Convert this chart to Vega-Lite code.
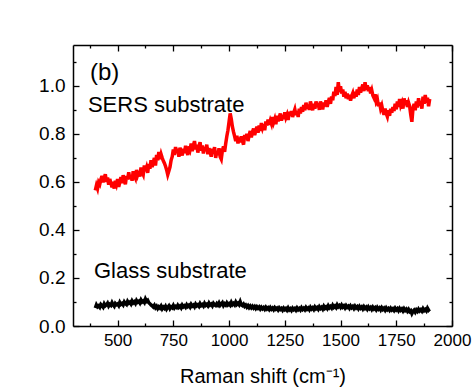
{
  "$schema": "https://vega.github.io/schema/vega-lite/v6.json",
  "width": 379,
  "height": 281,
  "autosize": {"type": "none"},
  "padding": {"left": 73, "top": 45, "right": 22, "bottom": 65},
  "background": "white",
  "config": {
    "view": {"stroke": null},
    "font": "Liberation Sans",
    "axis": {
      "grid": false,
      "domainColor": "black",
      "domainWidth": 1.5,
      "tickColor": "black",
      "tickWidth": 1.3,
      "labelColor": "black",
      "labelFont": "Liberation Sans",
      "titleFont": "Liberation Sans",
      "titleColor": "black",
      "titleFontWeight": "normal",
      "labelFlush": false,
      "labelOverlap": false
    }
  },
  "datasets": {
    "sers": [
      {"shift":400,"value":0.565},{"shift":405,"value":0.585},{"shift":410,"value":0.572},{"shift":415,"value":0.598},{"shift":420,"value":0.590},{"shift":425,"value":0.610},{"shift":430,"value":0.625},{"shift":435,"value":0.598},{"shift":440,"value":0.615},{"shift":445,"value":0.632},
      {"shift":450,"value":0.600},{"shift":455,"value":0.618},{"shift":460,"value":0.588},{"shift":465,"value":0.612},{"shift":470,"value":0.595},{"shift":475,"value":0.578},{"shift":480,"value":0.600},{"shift":485,"value":0.572},{"shift":490,"value":0.605},{"shift":495,"value":0.590},
      {"shift":500,"value":0.612},{"shift":505,"value":0.580},{"shift":510,"value":0.598},{"shift":515,"value":0.620},{"shift":520,"value":0.595},{"shift":525,"value":0.628},{"shift":530,"value":0.605},{"shift":535,"value":0.590},{"shift":540,"value":0.625},{"shift":545,"value":0.610},
      {"shift":550,"value":0.640},{"shift":555,"value":0.612},{"shift":560,"value":0.628},{"shift":565,"value":0.605},{"shift":570,"value":0.645},{"shift":575,"value":0.625},{"shift":580,"value":0.615},{"shift":585,"value":0.650},{"shift":590,"value":0.630},{"shift":595,"value":0.645},
      {"shift":600,"value":0.622},{"shift":605,"value":0.660},{"shift":610,"value":0.640},{"shift":615,"value":0.630},{"shift":620,"value":0.668},{"shift":625,"value":0.645},{"shift":630,"value":0.660},{"shift":635,"value":0.638},{"shift":640,"value":0.675},{"shift":645,"value":0.655},
      {"shift":650,"value":0.690},{"shift":655,"value":0.662},{"shift":660,"value":0.680},{"shift":665,"value":0.700},{"shift":670,"value":0.668},{"shift":675,"value":0.712},{"shift":680,"value":0.690},{"shift":685,"value":0.725},{"shift":690,"value":0.695},{"shift":695,"value":0.715},
      {"shift":700,"value":0.700},{"shift":705,"value":0.688},{"shift":710,"value":0.678},{"shift":715,"value":0.665},{"shift":720,"value":0.650},{"shift":725,"value":0.630},{"shift":730,"value":0.645},{"shift":735,"value":0.662},{"shift":740,"value":0.690},{"shift":745,"value":0.705},
      {"shift":750,"value":0.735},{"shift":755,"value":0.712},{"shift":760,"value":0.745},{"shift":765,"value":0.720},{"shift":770,"value":0.738},{"shift":775,"value":0.705},{"shift":780,"value":0.742},{"shift":785,"value":0.725},{"shift":790,"value":0.710},{"shift":795,"value":0.738},
      {"shift":800,"value":0.720},{"shift":805,"value":0.750},{"shift":810,"value":0.728},{"shift":815,"value":0.712},{"shift":820,"value":0.748},{"shift":825,"value":0.735},{"shift":830,"value":0.760},{"shift":835,"value":0.728},{"shift":840,"value":0.752},{"shift":845,"value":0.770},
      {"shift":850,"value":0.735},{"shift":855,"value":0.755},{"shift":860,"value":0.722},{"shift":865,"value":0.748},{"shift":870,"value":0.765},{"shift":875,"value":0.730},{"shift":880,"value":0.752},{"shift":885,"value":0.718},{"shift":890,"value":0.745},{"shift":895,"value":0.728},
      {"shift":900,"value":0.755},{"shift":905,"value":0.715},{"shift":910,"value":0.740},{"shift":915,"value":0.725},{"shift":920,"value":0.705},{"shift":925,"value":0.738},{"shift":930,"value":0.718},{"shift":935,"value":0.745},{"shift":940,"value":0.700},{"shift":945,"value":0.728},
      {"shift":950,"value":0.712},{"shift":955,"value":0.740},{"shift":960,"value":0.705},{"shift":965,"value":0.695},{"shift":970,"value":0.730},{"shift":975,"value":0.748},{"shift":980,"value":0.725},{"shift":985,"value":0.760},{"shift":990,"value":0.790},{"shift":995,"value":0.815},
      {"shift":1000,"value":0.850},{"shift":1005,"value":0.885},{"shift":1010,"value":0.862},{"shift":1015,"value":0.830},{"shift":1020,"value":0.808},{"shift":1025,"value":0.790},{"shift":1030,"value":0.770},{"shift":1035,"value":0.792},{"shift":1040,"value":0.760},{"shift":1045,"value":0.785},
      {"shift":1050,"value":0.765},{"shift":1055,"value":0.790},{"shift":1060,"value":0.772},{"shift":1065,"value":0.755},{"shift":1070,"value":0.795},{"shift":1075,"value":0.778},{"shift":1080,"value":0.800},{"shift":1085,"value":0.770},{"shift":1090,"value":0.795},{"shift":1095,"value":0.812},
      {"shift":1100,"value":0.785},{"shift":1105,"value":0.808},{"shift":1110,"value":0.822},{"shift":1115,"value":0.795},{"shift":1120,"value":0.815},{"shift":1125,"value":0.830},{"shift":1130,"value":0.805},{"shift":1135,"value":0.835},{"shift":1140,"value":0.812},{"shift":1145,"value":0.845},
      {"shift":1150,"value":0.825},{"shift":1155,"value":0.840},{"shift":1160,"value":0.815},{"shift":1165,"value":0.852},{"shift":1170,"value":0.835},{"shift":1175,"value":0.860},{"shift":1180,"value":0.838},{"shift":1185,"value":0.855},{"shift":1190,"value":0.842},{"shift":1195,"value":0.870},
      {"shift":1200,"value":0.848},{"shift":1205,"value":0.862},{"shift":1210,"value":0.840},{"shift":1215,"value":0.875},{"shift":1220,"value":0.852},{"shift":1225,"value":0.868},{"shift":1230,"value":0.885},{"shift":1235,"value":0.855},{"shift":1240,"value":0.878},{"shift":1245,"value":0.862},
      {"shift":1250,"value":0.890},{"shift":1255,"value":0.868},{"shift":1260,"value":0.880},{"shift":1265,"value":0.858},{"shift":1270,"value":0.892},{"shift":1275,"value":0.875},{"shift":1280,"value":0.895},{"shift":1285,"value":0.870},{"shift":1290,"value":0.888},{"shift":1295,"value":0.902},
      {"shift":1300,"value":0.878},{"shift":1305,"value":0.895},{"shift":1310,"value":0.870},{"shift":1315,"value":0.905},{"shift":1320,"value":0.885},{"shift":1325,"value":0.912},{"shift":1330,"value":0.892},{"shift":1335,"value":0.920},{"shift":1340,"value":0.898},{"shift":1345,"value":0.930},
      {"shift":1350,"value":0.905},{"shift":1355,"value":0.922},{"shift":1360,"value":0.900},{"shift":1365,"value":0.935},{"shift":1370,"value":0.915},{"shift":1375,"value":0.898},{"shift":1380,"value":0.925},{"shift":1385,"value":0.905},{"shift":1390,"value":0.935},{"shift":1395,"value":0.912},
      {"shift":1400,"value":0.928},{"shift":1405,"value":0.900},{"shift":1410,"value":0.935},{"shift":1415,"value":0.918},{"shift":1420,"value":0.902},{"shift":1425,"value":0.930},{"shift":1430,"value":0.915},{"shift":1435,"value":0.940},{"shift":1440,"value":0.912},{"shift":1445,"value":0.932},
      {"shift":1450,"value":0.950},{"shift":1455,"value":0.925},{"shift":1460,"value":0.955},{"shift":1465,"value":0.940},{"shift":1470,"value":0.975},{"shift":1475,"value":0.958},{"shift":1480,"value":0.995},{"shift":1485,"value":0.962},{"shift":1490,"value":1.015},{"shift":1495,"value":0.975},
      {"shift":1500,"value":0.998},{"shift":1505,"value":0.968},{"shift":1510,"value":0.985},{"shift":1515,"value":0.955},{"shift":1520,"value":0.975},{"shift":1525,"value":0.948},{"shift":1530,"value":0.968},{"shift":1535,"value":0.945},{"shift":1540,"value":0.962},{"shift":1545,"value":0.938},
      {"shift":1550,"value":0.958},{"shift":1555,"value":0.970},{"shift":1560,"value":0.948},{"shift":1565,"value":0.975},{"shift":1570,"value":0.955},{"shift":1575,"value":0.985},{"shift":1580,"value":0.962},{"shift":1585,"value":0.995},{"shift":1590,"value":0.972},{"shift":1595,"value":0.990},
      {"shift":1600,"value":1.005},{"shift":1605,"value":0.978},{"shift":1610,"value":1.015},{"shift":1615,"value":0.985},{"shift":1620,"value":1.002},{"shift":1625,"value":0.978},{"shift":1630,"value":0.995},{"shift":1635,"value":0.968},{"shift":1640,"value":0.982},{"shift":1645,"value":0.960},
      {"shift":1650,"value":0.950},{"shift":1655,"value":0.965},{"shift":1660,"value":0.935},{"shift":1665,"value":0.945},{"shift":1670,"value":0.915},{"shift":1675,"value":0.930},{"shift":1680,"value":0.905},{"shift":1685,"value":0.918},{"shift":1690,"value":0.895},{"shift":1695,"value":0.880},
      {"shift":1700,"value":0.905},{"shift":1705,"value":0.885},{"shift":1710,"value":0.872},{"shift":1715,"value":0.898},{"shift":1720,"value":0.875},{"shift":1725,"value":0.905},{"shift":1730,"value":0.888},{"shift":1735,"value":0.912},{"shift":1740,"value":0.895},{"shift":1745,"value":0.925},
      {"shift":1750,"value":0.902},{"shift":1755,"value":0.935},{"shift":1760,"value":0.912},{"shift":1765,"value":0.945},{"shift":1770,"value":0.918},{"shift":1775,"value":0.930},{"shift":1780,"value":0.905},{"shift":1785,"value":0.948},{"shift":1790,"value":0.920},{"shift":1795,"value":0.940},
      {"shift":1800,"value":0.912},{"shift":1805,"value":0.930},{"shift":1810,"value":0.915},{"shift":1815,"value":0.880},{"shift":1820,"value":0.850},{"shift":1825,"value":0.905},{"shift":1830,"value":0.925},{"shift":1835,"value":0.898},{"shift":1840,"value":0.935},{"shift":1845,"value":0.910},
      {"shift":1850,"value":0.948},{"shift":1855,"value":0.918},{"shift":1860,"value":0.935},{"shift":1865,"value":0.905},{"shift":1870,"value":0.955},{"shift":1875,"value":0.925},{"shift":1880,"value":0.962},{"shift":1885,"value":0.930},{"shift":1890,"value":0.950},{"shift":1895,"value":0.915},
      {"shift":1900,"value":0.945}
    ],
    "glass": [
      {"shift":400,"value":0.075},{"shift":405,"value":0.088},{"shift":410,"value":0.080},{"shift":415,"value":0.084},{"shift":420,"value":0.078},{"shift":425,"value":0.090},{"shift":430,"value":0.085},{"shift":435,"value":0.079},{"shift":440,"value":0.092},{"shift":445,"value":0.084},
      {"shift":450,"value":0.088},{"shift":455,"value":0.095},{"shift":460,"value":0.083},{"shift":465,"value":0.090},{"shift":470,"value":0.086},{"shift":475,"value":0.097},{"shift":480,"value":0.088},{"shift":485,"value":0.082},{"shift":490,"value":0.094},{"shift":495,"value":0.089},
      {"shift":500,"value":0.092},{"shift":505,"value":0.085},{"shift":510,"value":0.098},{"shift":515,"value":0.090},{"shift":520,"value":0.094},{"shift":525,"value":0.088},{"shift":530,"value":0.100},{"shift":535,"value":0.093},{"shift":540,"value":0.089},{"shift":545,"value":0.102},
      {"shift":550,"value":0.095},{"shift":555,"value":0.099},{"shift":560,"value":0.092},{"shift":565,"value":0.104},{"shift":570,"value":0.096},{"shift":575,"value":0.101},{"shift":580,"value":0.094},{"shift":585,"value":0.106},{"shift":590,"value":0.099},{"shift":595,"value":0.103},
      {"shift":600,"value":0.096},{"shift":605,"value":0.108},{"shift":610,"value":0.100},{"shift":615,"value":0.104},{"shift":620,"value":0.098},{"shift":625,"value":0.112},{"shift":630,"value":0.103},{"shift":635,"value":0.107},{"shift":640,"value":0.097},{"shift":645,"value":0.093},
      {"shift":650,"value":0.088},{"shift":655,"value":0.084},{"shift":660,"value":0.079},{"shift":665,"value":0.086},{"shift":670,"value":0.076},{"shift":675,"value":0.082},{"shift":680,"value":0.073},{"shift":685,"value":0.080},{"shift":690,"value":0.075},{"shift":695,"value":0.083},
      {"shift":700,"value":0.072},{"shift":705,"value":0.079},{"shift":710,"value":0.074},{"shift":715,"value":0.082},{"shift":720,"value":0.071},{"shift":725,"value":0.078},{"shift":730,"value":0.084},{"shift":735,"value":0.073},{"shift":740,"value":0.080},{"shift":745,"value":0.076},
      {"shift":750,"value":0.085},{"shift":755,"value":0.075},{"shift":760,"value":0.081},{"shift":765,"value":0.077},{"shift":770,"value":0.086},{"shift":775,"value":0.078},{"shift":780,"value":0.083},{"shift":785,"value":0.076},{"shift":790,"value":0.087},{"shift":795,"value":0.080},
      {"shift":800,"value":0.084},{"shift":805,"value":0.078},{"shift":810,"value":0.088},{"shift":815,"value":0.081},{"shift":820,"value":0.086},{"shift":825,"value":0.079},{"shift":830,"value":0.090},{"shift":835,"value":0.083},{"shift":840,"value":0.087},{"shift":845,"value":0.080},
      {"shift":850,"value":0.091},{"shift":855,"value":0.084},{"shift":860,"value":0.088},{"shift":865,"value":0.082},{"shift":870,"value":0.093},{"shift":875,"value":0.085},{"shift":880,"value":0.089},{"shift":885,"value":0.083},{"shift":890,"value":0.094},{"shift":895,"value":0.086},
      {"shift":900,"value":0.090},{"shift":905,"value":0.084},{"shift":910,"value":0.095},{"shift":915,"value":0.087},{"shift":920,"value":0.091},{"shift":925,"value":0.084},{"shift":930,"value":0.094},{"shift":935,"value":0.088},{"shift":940,"value":0.085},{"shift":945,"value":0.093},
      {"shift":950,"value":0.087},{"shift":955,"value":0.096},{"shift":960,"value":0.086},{"shift":965,"value":0.091},{"shift":970,"value":0.097},{"shift":975,"value":0.085},{"shift":980,"value":0.092},{"shift":985,"value":0.087},{"shift":990,"value":0.096},{"shift":995,"value":0.088},
      {"shift":1000,"value":0.093},{"shift":1005,"value":0.087},{"shift":1010,"value":0.098},{"shift":1015,"value":0.089},{"shift":1020,"value":0.094},{"shift":1025,"value":0.088},{"shift":1030,"value":0.099},{"shift":1035,"value":0.090},{"shift":1040,"value":0.095},{"shift":1045,"value":0.089},
      {"shift":1050,"value":0.101},{"shift":1055,"value":0.088},{"shift":1060,"value":0.085},{"shift":1065,"value":0.091},{"shift":1070,"value":0.082},{"shift":1075,"value":0.087},{"shift":1080,"value":0.079},{"shift":1085,"value":0.085},{"shift":1090,"value":0.077},{"shift":1095,"value":0.083},
      {"shift":1100,"value":0.076},{"shift":1105,"value":0.082},{"shift":1110,"value":0.075},{"shift":1115,"value":0.081},{"shift":1120,"value":0.073},{"shift":1125,"value":0.080},{"shift":1130,"value":0.074},{"shift":1135,"value":0.079},{"shift":1140,"value":0.071},{"shift":1145,"value":0.078},
      {"shift":1150,"value":0.072},{"shift":1155,"value":0.077},{"shift":1160,"value":0.070},{"shift":1165,"value":0.078},{"shift":1170,"value":0.071},{"shift":1175,"value":0.076},{"shift":1180,"value":0.069},{"shift":1185,"value":0.077},{"shift":1190,"value":0.070},{"shift":1195,"value":0.075},
      {"shift":1200,"value":0.068},{"shift":1205,"value":0.076},{"shift":1210,"value":0.070},{"shift":1215,"value":0.074},{"shift":1220,"value":0.067},{"shift":1225,"value":0.075},{"shift":1230,"value":0.069},{"shift":1235,"value":0.073},{"shift":1240,"value":0.066},{"shift":1245,"value":0.074},
      {"shift":1250,"value":0.068},{"shift":1255,"value":0.073},{"shift":1260,"value":0.066},{"shift":1265,"value":0.075},{"shift":1270,"value":0.067},{"shift":1275,"value":0.072},{"shift":1280,"value":0.065},{"shift":1285,"value":0.074},{"shift":1290,"value":0.068},{"shift":1295,"value":0.073},
      {"shift":1300,"value":0.066},{"shift":1305,"value":0.075},{"shift":1310,"value":0.068},{"shift":1315,"value":0.073},{"shift":1320,"value":0.067},{"shift":1325,"value":0.076},{"shift":1330,"value":0.069},{"shift":1335,"value":0.074},{"shift":1340,"value":0.068},{"shift":1345,"value":0.077},
      {"shift":1350,"value":0.070},{"shift":1355,"value":0.075},{"shift":1360,"value":0.068},{"shift":1365,"value":0.078},{"shift":1370,"value":0.071},{"shift":1375,"value":0.076},{"shift":1380,"value":0.069},{"shift":1385,"value":0.079},{"shift":1390,"value":0.072},{"shift":1395,"value":0.077},
      {"shift":1400,"value":0.070},{"shift":1405,"value":0.080},{"shift":1410,"value":0.073},{"shift":1415,"value":0.078},{"shift":1420,"value":0.071},{"shift":1425,"value":0.082},{"shift":1430,"value":0.074},{"shift":1435,"value":0.079},{"shift":1440,"value":0.073},{"shift":1445,"value":0.084},
      {"shift":1450,"value":0.076},{"shift":1455,"value":0.081},{"shift":1460,"value":0.075},{"shift":1465,"value":0.086},{"shift":1470,"value":0.078},{"shift":1475,"value":0.083},{"shift":1480,"value":0.077},{"shift":1485,"value":0.088},{"shift":1490,"value":0.080},{"shift":1495,"value":0.085},
      {"shift":1500,"value":0.078},{"shift":1505,"value":0.087},{"shift":1510,"value":0.079},{"shift":1515,"value":0.084},{"shift":1520,"value":0.076},{"shift":1525,"value":0.085},{"shift":1530,"value":0.078},{"shift":1535,"value":0.082},{"shift":1540,"value":0.074},{"shift":1545,"value":0.083},
      {"shift":1550,"value":0.076},{"shift":1555,"value":0.081},{"shift":1560,"value":0.073},{"shift":1565,"value":0.082},{"shift":1570,"value":0.075},{"shift":1575,"value":0.080},{"shift":1580,"value":0.072},{"shift":1585,"value":0.081},{"shift":1590,"value":0.074},{"shift":1595,"value":0.079},
      {"shift":1600,"value":0.071},{"shift":1605,"value":0.080},{"shift":1610,"value":0.073},{"shift":1615,"value":0.078},{"shift":1620,"value":0.070},{"shift":1625,"value":0.079},{"shift":1630,"value":0.072},{"shift":1635,"value":0.077},{"shift":1640,"value":0.069},{"shift":1645,"value":0.078},
      {"shift":1650,"value":0.071},{"shift":1655,"value":0.076},{"shift":1660,"value":0.068},{"shift":1665,"value":0.077},{"shift":1670,"value":0.070},{"shift":1675,"value":0.075},{"shift":1680,"value":0.067},{"shift":1685,"value":0.076},{"shift":1690,"value":0.069},{"shift":1695,"value":0.074},
      {"shift":1700,"value":0.066},{"shift":1705,"value":0.075},{"shift":1710,"value":0.068},{"shift":1715,"value":0.073},{"shift":1720,"value":0.066},{"shift":1725,"value":0.074},{"shift":1730,"value":0.067},{"shift":1735,"value":0.072},{"shift":1740,"value":0.065},{"shift":1745,"value":0.074},
      {"shift":1750,"value":0.067},{"shift":1755,"value":0.072},{"shift":1760,"value":0.064},{"shift":1765,"value":0.073},{"shift":1770,"value":0.066},{"shift":1775,"value":0.071},{"shift":1780,"value":0.063},{"shift":1785,"value":0.072},{"shift":1790,"value":0.065},{"shift":1795,"value":0.070},
      {"shift":1800,"value":0.062},{"shift":1805,"value":0.069},{"shift":1810,"value":0.060},{"shift":1815,"value":0.064},{"shift":1820,"value":0.052},{"shift":1825,"value":0.061},{"shift":1830,"value":0.066},{"shift":1835,"value":0.058},{"shift":1840,"value":0.067},{"shift":1845,"value":0.061},
      {"shift":1850,"value":0.070},{"shift":1855,"value":0.063},{"shift":1860,"value":0.068},{"shift":1865,"value":0.062},{"shift":1870,"value":0.072},{"shift":1875,"value":0.064},{"shift":1880,"value":0.069},{"shift":1885,"value":0.063},{"shift":1890,"value":0.074},{"shift":1895,"value":0.066},
      {"shift":1900,"value":0.071}
    ],
    "notes": [
      {"label": "(b)", "shift": 376, "value": 1.025},
      {"label": "SERS substrate", "shift": 367, "value": 0.892},
      {"label": "Glass substrate", "shift": 394, "value": 0.2}
    ]
  },
  "layer": [
    {
      "data": {"name": "sers"},
      "mark": {"type": "line", "color": "#ff0000", "strokeWidth": 3.5, "clip": true},
      "encoding": {
        "x": {
          "field": "shift", "type": "quantitative",
          "scale": {"domain": [300, 2000], "nice": false, "zero": false},
          "axis": {
            "orient": "bottom",
            "title": "Raman shift (cm⁻¹)",
            "titleFontSize": 20,
            "titleBaseline": "alphabetic",
            "titleY": 56,
            "values": [375, 500, 625, 750, 875, 1000, 1125, 1250, 1375, 1500, 1625, 1750, 1875, 2000],
            "format": "d",
            "labelExpr": "datum.value % 250 === 0 ? datum.label : ''",
            "labelFontSize": 17,
            "labelBaseline": "top",
            "labelPadding": 12,
            "tickSize": {"condition": {"test": "datum.value % 250 === 0", "value": -6}, "value": -3}
          }
        },
        "y": {
          "field": "value", "type": "quantitative",
          "scale": {"domain": [0, 1.17], "nice": false},
          "axis": {
            "orient": "left",
            "title": null,
            "values": [0, 0.1, 0.2, 0.3, 0.4, 0.5, 0.6, 0.7, 0.8, 0.9, 1.0, 1.1],
            "format": ".1f",
            "labelExpr": "round(datum.value * 10) % 2 === 0 ? datum.label : ''",
            "labelFontSize": 19,
            "labelPadding": 14,
            "tickSize": {"condition": {"test": "round(datum.value * 10) % 2 === 0", "value": -6}, "value": -3}
          }
        }
      }
    },
    {
      "data": {"name": "glass"},
      "mark": {"type": "line", "color": "#000000", "strokeWidth": 3.5, "clip": true},
      "encoding": {
        "x": {
          "field": "shift", "type": "quantitative",
          "scale": {"domain": [300, 2000], "nice": false, "zero": false},
          "axis": {
            "orient": "top",
            "title": null,
            "labels": false,
            "values": [375, 500, 625, 750, 875, 1000, 1125, 1250, 1375, 1500, 1625, 1750, 1875, 2000],
            "tickSize": {"condition": {"test": "datum.value % 250 === 0", "value": -6}, "value": -3}
          }
        },
        "y": {
          "field": "value", "type": "quantitative",
          "scale": {"domain": [0, 1.17], "nice": false},
          "axis": {
            "orient": "right",
            "title": null,
            "labels": false,
            "values": [0, 0.1, 0.2, 0.3, 0.4, 0.5, 0.6, 0.7, 0.8, 0.9, 1.0, 1.1],
            "tickSize": {"condition": {"test": "round(datum.value * 10) % 2 === 0", "value": -6}, "value": -3}
          }
        }
      }
    },
    {
      "data": {"name": "notes"},
      "mark": {"type": "text", "align": "left", "baseline": "alphabetic", "font": "Liberation Sans", "color": "black"},
      "encoding": {
        "x": {"field": "shift", "type": "quantitative", "scale": {"domain": [300, 2000], "nice": false, "zero": false}, "axis": null},
        "y": {"field": "value", "type": "quantitative", "scale": {"domain": [0, 1.17], "nice": false}, "axis": null},
        "text": {"field": "label"},
        "size": {"condition": {"test": "datum.label === '(b)'", "value": 24}, "value": 22}
      }
    }
  ],
  "resolve": {"axis": {"x": "independent", "y": "independent"}}
}
